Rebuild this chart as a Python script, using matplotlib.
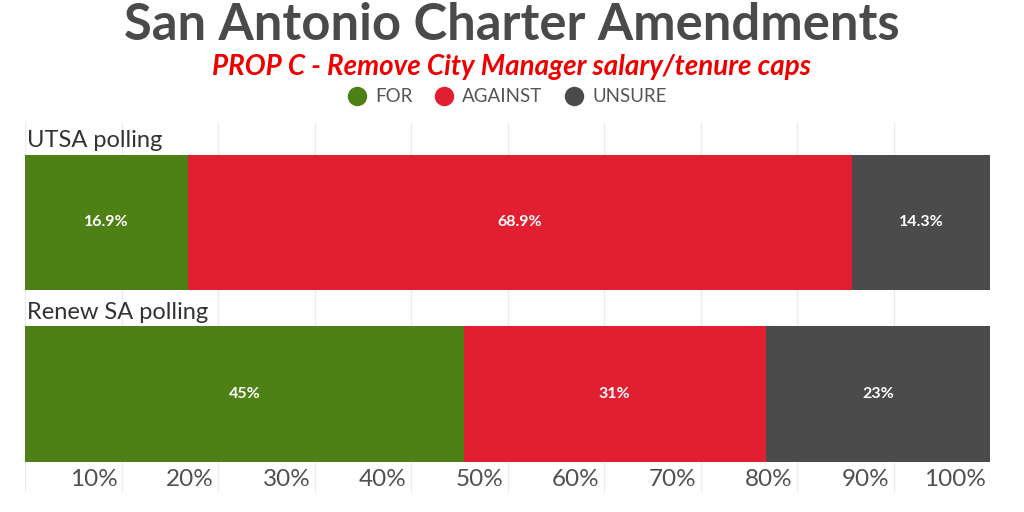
import matplotlib
matplotlib.use("Agg")
import matplotlib.pyplot as plt
from matplotlib.transforms import blended_transform_factory, ScaledTranslation
from matplotlib.lines import Line2D

plt.rcParams['font.family'] = ['Lato', 'DejaVu Sans']

title = "San Antonio Charter Amendments"
subtitle = "PROP C - Remove City Manager salary/tenure caps"
categories = ["UTSA polling", "Renew SA polling"]
series_names = ["FOR", "AGAINST", "UNSURE"]
for_vals = [16.9, 45]
against_vals = [68.9, 31]
unsure_vals = [14.3, 23]
colors = ["#4e8115", "#e11f31", "#4b4b4b"]
x_ticks = [0, 10, 20, 30, 40, 50, 60, 70, 80, 90, 100]
x_tick_labels = ["", "10%", "20%", "30%", "40%", "50%", "60%", "70%", "80%", "90%", "100%"]

fig = plt.figure(figsize=(10.24, 5.12), dpi=100)
W, H = 1024, 512
ax = fig.add_axes([25 / W, 1 - 492 / H, (990 - 25) / W, (492 - 123) / H])

series = [for_vals, against_vals, unsure_vals]
bar_h = 0.79
for i, cat in enumerate(categories):
    total = sum(s[i] for s in series)
    left = 0.0
    for s, c in zip(series, colors):
        w = s[i] / total * 100
        ax.barh(i, w, left=left, height=bar_h, color=c, edgecolor='none', zorder=2)
        ax.text(left + w / 2, i, f"{s[i]:g}%", ha='center', va='center',
                color='white', fontsize=11.5, fontweight='bold', zorder=3)
        left += w
    ax.text(0.2, i - bar_h / 2 - 0.02, cat, ha='left', va='bottom',
            fontsize=17, color='#333333', zorder=3)

ax.set_xlim(0, 100)
ax.set_ylim(1.571, -0.58)
ax.set_xticks(x_ticks)
ax.set_xticklabels([])
ax.set_yticks([])
ax.tick_params(axis='x', length=0)
ax.grid(axis='x', color='#ebebeb', linewidth=1, zorder=0)
for sp in ax.spines.values():
    sp.set_visible(False)

trans = blended_transform_factory(ax.transData, ax.transAxes) + ScaledTranslation(-3 / 72, 0, fig.dpi_scale_trans)
for xv, lab in zip(x_ticks, x_tick_labels):
    ax.text(xv, 12 / 369, lab, transform=trans, ha='right', va='center',
            fontsize=17.5, color='#505050')

fig.text(0.5, 1 - 25 / H, title, ha='center', va='center', fontsize=36.5,
         fontweight='bold', color='#4a4a4a')
fig.text(0.5, 1 - 67 / H, subtitle, ha='center', va='center', fontsize=20,
         fontweight='bold', fontstyle='italic', color='#ee0000')

handles = [Line2D([], [], marker='o', linestyle='none', markersize=14,
                  markerfacecolor=c, markeredgecolor='none') for c in colors]
fig.legend(handles, series_names, loc='center', bbox_to_anchor=(506 / W, 1 - 97 / H),
           ncol=3, frameon=False, fontsize=13.5, handlelength=1.2, handletextpad=0.4,
           columnspacing=1.05, labelcolor='#555555')

fig.savefig("out.png", dpi=100)
